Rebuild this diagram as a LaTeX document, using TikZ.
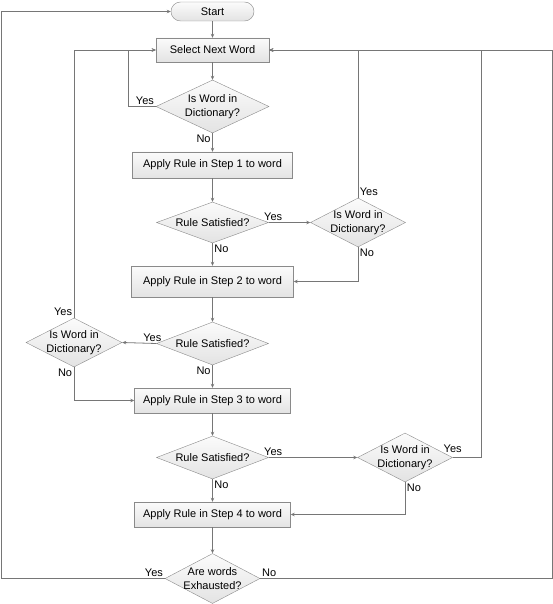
\documentclass[tikz,border=0pt]{standalone}
\usepackage{fontspec}
\setmainfont{Liberation Sans}
\usetikzlibrary{shapes,arrows.meta,positioning}

\definecolor{linegray}{HTML}{767676}
\definecolor{edgegray}{HTML}{8A8A8A}

\tikzset{
  start/.style={rounded rectangle, draw=edgegray, top color=gray!3, bottom color=gray!22, minimum width=83pt, minimum height=19pt, inner sep=0pt},
  box/.style={rectangle, draw=edgegray, top color=gray!3, bottom color=gray!22, minimum width=156pt, minimum height=25pt, inner sep=0pt},
  dec/.style={diamond, draw=edgegray, top color=gray!3, bottom color=gray!22, minimum width=95pt, minimum height=49pt, inner sep=0pt},
  txt/.style={align=center, inner sep=0pt, font=\fontsize{11}{13.5}\selectfont},
  arr/.style={draw=linegray, line width=0.8pt, -{Stealth[length=4pt,width=3.5pt]}},
  lbl/.style={font=\fontsize{11}{12}\selectfont, inner sep=1.5pt},
}

\begin{document}
\begin{tikzpicture}[x=1pt, y=-1pt, font=\fontsize{11}{13}\selectfont]
    \useasboundingbox (0,0) rectangle (553,604);

    % Main column
    \node[start] (start) at (212.5,11.5) {Start};
    \node[box, minimum width=113pt, minimum height=24pt] (sel) at (212.5,50) {Select Next Word};
    \node[dec, minimum width=113pt, minimum height=53pt, label={[txt]center:Is Word in\\Dictionary?}] (d1) at (212.5,106.5) {};
    \node[box, minimum width=160pt, minimum height=26pt] (s1) at (212.5,165) {Apply Rule in Step 1 to word};
    \node[dec, minimum width=112pt, minimum height=41pt, label={[txt]center:Rule Satisfied?}] (r1) at (212.5,222.5) {};
    \node[box, minimum width=162pt, minimum height=31pt] (s2) at (212.5,281.5) {Apply Rule in Step 2 to word};
    \node[dec, minimum width=112pt, minimum height=43pt, label={[txt]center:Rule Satisfied?}] (r2) at (212.5,343.5) {};
    \node[box] (s3) at (212.5,400.5) {Apply Rule in Step 3 to word};
    \node[dec, minimum width=112pt, minimum height=43pt, label={[txt]center:Rule Satisfied?}] (r3) at (212.5,457.5) {};
    \node[box] (s4) at (212.5,514.5) {Apply Rule in Step 4 to word};
    \node[dec, minimum height=50pt, label={[txt]center:Are words\\Exhausted?}] (ex) at (212.5,578.5) {};

    % Side checks
    \node[dec, label={[txt]center:Is Word in\\Dictionary?}] (d2) at (358,222.5) {};
    \node[dec, minimum width=96pt, label={[txt]center:Is Word in\\Dictionary?}] (d3) at (74,342.5) {};
    \node[dec, label={[txt]center:Is Word in\\Dictionary?}] (d4) at (405,457.5) {};

    % Corner points of the loops
    \coordinate (c1) at (128,50);
    \coordinate (r4) at (481,50);
    \coordinate (outr) at (552,50);
    \coordinate (outl) at (1.5,11.5);

    % Main flow
    \draw[arr] (start) -- (sel);
    \draw[arr] (sel) -- (d1);
    \draw[arr] (d1) -- node[lbl, pos=0, anchor=north east]{No} (s1);
    \draw[arr] (s1) -- (r1);
    \draw[arr] (r1) -- node[lbl, pos=0, anchor=north west]{No} (s2);
    \draw[arr] (s2) -- (r2);
    \draw[arr] (r2) -- node[lbl, pos=0, anchor=north east]{No} (s3);
    \draw[arr] (s3) -- (r3);
    \draw[arr] (r3) -- node[lbl, pos=0, anchor=north west]{No} (s4);
    \draw[arr] (s4) -- (ex);

    % Branches
    \draw[arr] (d1.west) node[lbl, anchor=south east]{Yes} -| (c1) -- (sel.west);
    \draw[arr] (r1.east) node[lbl, anchor=south, xshift=4.5pt]{Yes} -- (d2.west);
    \draw[arr] (d2.north) node[lbl, anchor=south west]{Yes} |- (sel.east);
    \draw[arr] (d2.south) node[lbl, anchor=north west]{No} |- (s2.east);
    \draw[arr] (r2.west) node[lbl, anchor=south, xshift=-4pt]{Yes} -- (d3.east);
    \draw[arr] (d3.north) node[lbl, anchor=south east]{Yes} |- (sel.west);
    \draw[arr] (d3.south) node[lbl, anchor=north east]{No} |- (s3.west);
    \draw[arr] (r3.east) node[lbl, anchor=south, xshift=4.5pt]{Yes} -- (d4.west);
    \draw[arr] (d4.east) node[lbl, anchor=south, yshift=3pt]{Yes} -| (r4) -- (sel.east);
    \draw[arr] (d4.south) node[lbl, anchor=north west]{No} |- (s4.east);
    \draw[arr] (ex.west) node[lbl, anchor=south east]{Yes} -| (outl) -- (start.west);
    \draw[arr] (ex.east) node[lbl, anchor=south west]{No} -| (outr) -- (sel.east);
\end{tikzpicture}
\end{document}
